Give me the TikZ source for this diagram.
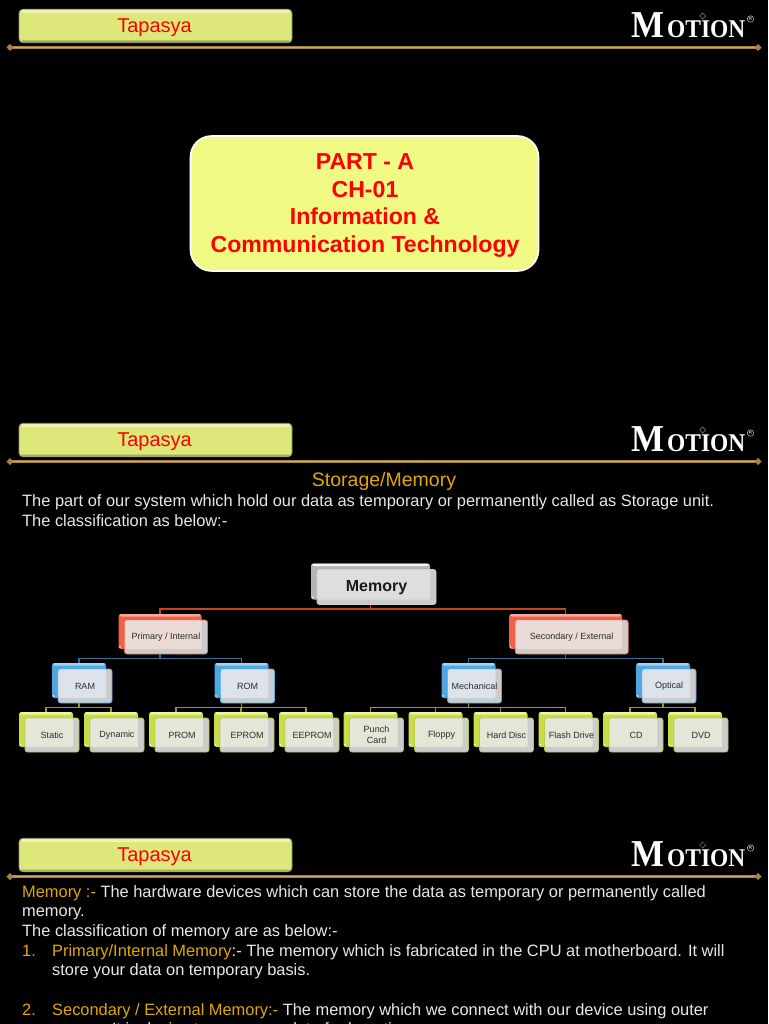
\documentclass[tikz,border=0pt]{standalone}
\usepackage{fontspec}
\setmainfont{Liberation Sans}
\newfontfamily\logoserif{Liberation Serif}
\definecolor{gold}{HTML}{E0A800}
\definecolor{rulecol}{HTML}{A88440}
\definecolor{rulehi}{HTML}{D0A860}
\definecolor{hdr}{HTML}{DDE77A}
\definecolor{hdrhi}{HTML}{F0F4B0}
\definecolor{cardy}{HTML}{EFF984}
\definecolor{body}{HTML}{E8E8E8}
\definecolor{strip}{HTML}{CCCCCC}
\definecolor{textgray}{HTML}{2C2C2C}
\definecolor{grayback}{HTML}{B4B4B4}\definecolor{grayhi}{HTML}{F4F4F4}\definecolor{grayin}{HTML}{DEDEDE}\definecolor{grayedge}{HTML}{D0D0D0}
\definecolor{redback}{HTML}{F0604A}\definecolor{redhi}{HTML}{F8A898}\definecolor{redin}{HTML}{EBDAD5}\definecolor{rededge}{HTML}{F0705A}
\definecolor{blueback}{HTML}{4FA6E0}\definecolor{bluehi}{HTML}{A0D4F4}\definecolor{bluein}{HTML}{DCE3EA}\definecolor{blueedge}{HTML}{5AAFE0}
\definecolor{greenback}{HTML}{CBDC48}\definecolor{greenhi}{HTML}{EEF4A0}\definecolor{greenin}{HTML}{E4E6D8}\definecolor{greenedge}{HTML}{B5C83A}
\definecolor{redline}{HTML}{C8421F}\definecolor{blueline}{HTML}{2F7098}\definecolor{greenline}{HTML}{8FA212}
\tikzset{
  x=1pt,y=-1pt,
  header/.style={fill=hdr,draw=black!45!white,line width=.8pt,rounded corners=4pt,minimum width=273pt,minimum height=33.5pt,inner sep=0pt},
  titlecard/.style={fill=cardy,draw=white,line width=1.6pt,rounded corners=21pt,minimum width=348pt,minimum height=135pt,inner sep=0pt},
  titletext/.style={inner sep=0pt,text=red,align=center,font=\fontsize{23.1}{27.5}\selectfont\bfseries},
  para/.style={anchor=base west,inner sep=0pt,text=body,font=\fontsize{16.4}{16.4}\selectfont},
  heading/.style={anchor=base,inner sep=0pt,text=gold,font=\fontsize{19.5}{19.5}\selectfont},
  lab/.style={inner sep=0pt,align=center,text=textgray,font=\fontsize{9}{10.5}\selectfont},
  memlab/.style={inner sep=0pt,text=black!90,yshift=-1pt,font=\fontsize{16}{16}\selectfont\bfseries},
  conn/.style={line width=1.5pt},
}
% name, cx, cy, w, h, colour set, label style, text
\newcommand{\memcard}[8]{%
  \fill[#6back,rounded corners=2.5pt] ({#2-#4/2-6},{#3-#5/2-6}) rectangle ({#2+#4/2-6},{#3+#5/2-5});
  \fill[#6hi,rounded corners=2pt] ({#2-#4/2-5},{#3-#5/2-6}) rectangle ({#2+#4/2-7},{#3-#5/2-3.5});
  \fill[white] ({#2-#4/2-4.5},{#3+#5/2-7}) circle (.8);
  \path[fill=strip,draw=#6edge,line width=.7pt,rounded corners=2.5pt] ({#2-#4/2},{#3-#5/2}) rectangle ({#2+#4/2},{#3+#5/2});
  \fill[#6in,rounded corners=1.5pt] ({#2-#4/2+.4},{#3-#5/2+.4}) rectangle ({#2+#4/2-6},{#3+#5/2-5});
  \node[#7] (#1) at (#2,#3) {#8};
  \coordinate (#1top) at ({#2-6},{#3-#5/2-6});
  \coordinate (#1bot) at ({#2-6},{#3+#5/2});
}
\newcommand{\hdrblock}[1]{%
  \node[header] (hd#1) at (155.5,{#1+26}) {};
  \fill[hdrhi,rounded corners=2pt] (21,{#1+10}) rectangle (290,{#1+13});
  \fill[black!25!hdr,rounded corners=1.5pt] (21,{#1+40.5}) rectangle (290,{#1+42});
  \node[inner sep=0pt,text=red,font=\fontsize{20}{20}\selectfont] (tp#1) at (154.5,{#1+27.5}) {Tapasya};
  \coordinate (ra#1) at (10,{#1+47.5});
  \coordinate (rb#1) at (758,{#1+47.5});
  \draw[rulecol,line width=2.4pt] (ra#1) -- (rb#1);
  \draw[rulehi,line width=.8pt] (ra#1) -- (rb#1);
  \fill[rulecol] (6.5,{#1+47.5}) -- (10,{#1+44}) -- (13.5,{#1+47.5}) -- (10,{#1+51}) -- cycle;
  \fill[rulecol] (754.5,{#1+47.5}) -- (758,{#1+44}) -- (761.5,{#1+47.5}) -- (758,{#1+51}) -- cycle;
  \node[anchor=base west,inner sep=0pt,text=white,font=\logoserif\bfseries\fontsize{38}{38}\selectfont,xscale=.92] (lm#1) at (631,{#1+37.5}) {M};
  \node[anchor=base west,inner sep=0pt,text=white,font=\logoserif\bfseries\fontsize{25.5}{25.5}\selectfont,xscale=.92] (lo#1) at (667,{#1+37.5}) {OTION};
  \node[draw=white,circle,line width=.35pt,inner sep=0pt,minimum size=6.5pt,text=white,font=\fontsize{4.5}{4.5}\selectfont] (lr#1) at (750.5,{#1+19}) {R};
  \draw[white!70!black,line width=.35pt] (699.5,{#1+16}) -- (702.5,{#1+13}) -- (705.5,{#1+16}) -- (702.5,{#1+19}) -- cycle;
}
\begin{document}
\begin{tikzpicture}
\useasboundingbox (0,0) rectangle (768,1024);
\fill[black] (0,0) rectangle (768,1024);
\clip (0,0) rectangle (768,1024);

\hdrblock{0}
\hdrblock{414}
\hdrblock{829}

\node[titlecard] (title) at (364.5,203.5) {};
\node[titletext] (titlelab) at (365,205.5) {PART - A\\CH-01\\Information \&\\Communication Technology};

\node[heading] (storage) at (384,486) {Storage/Memory};
\node[para] (p1) at (22,506) {The part of our system which hold our data as temporary or permanently called as Storage unit.};
\node[para] (p2) at (22,526) {The classification as below:-};

\memcard{memory}{376.5}{587}{119}{35}{gray}{memlab}{Memory}
\memcard{primary}{166}{637}{83}{34}{red}{lab}{Primary / Internal}
\memcard{secondary}{571.7}{637}{113}{34}{red}{lab}{Secondary / External}
\memcard{ram}{85}{686}{54}{34}{blue}{lab}{RAM}
\memcard{rom}{247.5}{686}{54}{34}{blue}{lab}{ROM}
\memcard{mech}{474.5}{686}{54}{34}{blue}{lab}{Mechanical}
\memcard{optical}{669}{686}{54}{34}{blue}{lab}{Optical}
\memcard{static}{52}{735}{54}{34}{green}{lab}{Static}
\memcard{dynamic}{117}{735}{54}{34}{green}{lab}{Dynamic}
\memcard{prom}{182}{735}{54}{34}{green}{lab}{PROM}
\memcard{eprom}{247}{735}{54}{34}{green}{lab}{EPROM}
\memcard{eeprom}{312}{735}{54}{34}{green}{lab}{EEPROM}
\memcard{punch}{376.5}{735}{54}{34}{green}{lab}{Punch\\Card}
\memcard{floppy}{441.5}{735}{54}{34}{green}{lab}{Floppy}
\memcard{hard}{506.5}{735}{54}{34}{green}{lab}{Hard Disc}
\memcard{flash}{571.5}{735}{54}{34}{green}{lab}{Flash Drive}
\memcard{cd}{636}{735}{54}{34}{green}{lab}{CD}
\memcard{dvd}{701}{735}{54}{34}{green}{lab}{DVD}

\foreach \t in {primary,secondary}
  \draw[conn,redline] (memorybot) -- ++(0,4.5) -| (\t top);
\foreach \s/\t in {primary/ram,primary/rom,secondary/mech,secondary/optical}
  \draw[conn,blueline] (\s bot) -- ++(0,4.3) -| (\t top);
\foreach \s/\t in {ram/static,ram/dynamic,rom/prom,rom/eprom,rom/eeprom,mech/punch,mech/floppy,mech/hard,mech/flash,optical/cd,optical/dvd}
  \draw[conn,greenline] (\s bot) -- ++(0,4.7) -| (\t top);

\node[para] (m1) at (22,897) {\textcolor{gold}{Memory :-} The hardware devices which can store the data as temporary or permanently called};
\node[para] (m2) at (22,916.5) {memory.};
\node[para] (m3) at (22,936) {The classification of memory are as below:-};
\node[para,text=gold] (n1) at (22,956) {1.};
\node[para] (m4) at (52,956) {\textcolor{gold}{Primary/Internal Memory}:- The memory which is fabricated in the CPU at motherboard. It will};
\node[para] (m5) at (52,975) {store your data on temporary basis.};
\node[para,text=gold] (n2) at (22,1015) {2.};
\node[para] (m6) at (52,1015) {\textcolor{gold}{Secondary / External Memory:-} The memory which we connect with our device using outer};
\node[para] (m7) at (52,1034.5) {source. It is device to save your data for long time.};
\end{tikzpicture}
\end{document}
